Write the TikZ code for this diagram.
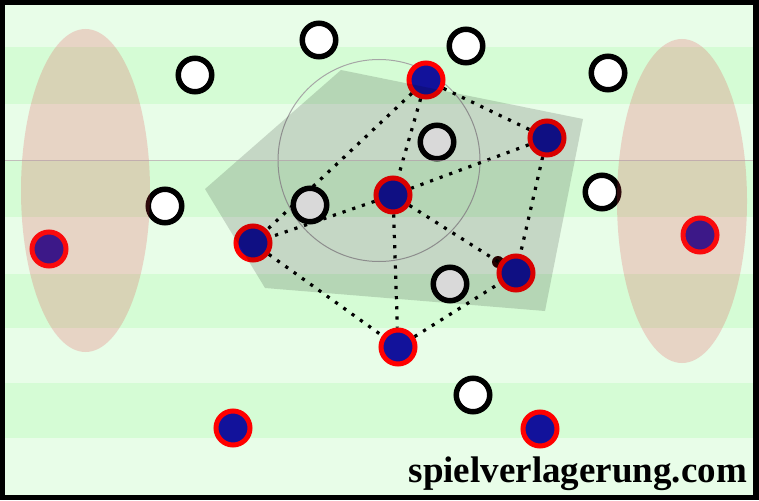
\documentclass[tikz,border=0pt]{standalone}
\usepackage{fontspec}
\setmainfont{Liberation Serif}
\definecolor{lightstripe}{RGB}{232,253,232}
\definecolor{darkstripe}{RGB}{213,252,213}
\definecolor{shirtblue}{RGB}{18,18,155}
\definecolor{flankred}{RGB}{230,50,60}
\definecolor{ballbrown}{RGB}{45,0,0}
\definecolor{halfway}{RGB}{180,150,170}
\tikzset{
  blueplayer/.style={circle,draw=red,fill=shirtblue,line width=5pt,minimum size=34pt,inner sep=0pt},
  whiteplayer/.style={circle,draw=black,fill=white,line width=5.5pt,minimum size=33.5pt,inner sep=0pt},
  passline/.style={line width=3.2pt,dash pattern=on 3.2pt off 7pt},
}
\begin{document}
\begin{tikzpicture}[x=1pt,y=-1pt]
  \useasboundingbox (0,0) rectangle (759,500);
  % pitch
  \fill[black] (0,0) rectangle (759,500);
  \fill[lightstripe] (5,5) rectangle (753,495);
  \fill[darkstripe] (5,47) rectangle (753,104);
  \fill[darkstripe] (5,160) rectangle (753,217);
  \fill[darkstripe] (5,274) rectangle (753,328);
  \fill[darkstripe] (5,383) rectangle (753,438);
  \draw[gray!70,line width=1pt] (379,160.5) circle (101);

  % ball
  \node[circle,fill=ballbrown,minimum size=12pt,inner sep=0pt] (ball) at (498,262) {};

  % red team
  \node[blueplayer] (bTop)   at (426,80) {};
  \node[blueplayer] (bRight) at (547,138) {};
  \node[blueplayer] (bMid)   at (393,195) {};
  \node[blueplayer] (bLeft)  at (253,243) {};
  \node[blueplayer] (bBall)  at (516,273) {};
  \node[blueplayer] (bLow)   at (398,347) {};
  \node[blueplayer] (bBL)    at (233,428) {};
  \node[blueplayer] (bBR)    at (540,429) {};
  \node[blueplayer] (bWideL) at (49,249) {};
  \node[blueplayer] (bWideR) at (700,235) {};

  % passing lanes
  \draw[passline] (bTop) -- (bRight);
  \draw[passline] (bTop) -- (bMid);
  \draw[passline] (bTop) -- (bLeft);
  \draw[passline] (bRight) -- (bMid);
  \draw[passline] (bRight) -- (bBall);
  \draw[passline] (bMid) -- (bBall);
  \draw[passline] (bMid) -- (bLow);
  \draw[passline] (bMid) -- (bLeft);
  \draw[passline] (bLeft) -- (bLow);
  \draw[passline] (bLow) -- (bBall);

  % white team
  \node[whiteplayer] (w1)  at (195,75) {};
  \node[whiteplayer] (w2)  at (319,40) {};
  \node[whiteplayer] (w3)  at (466,46) {};
  \node[whiteplayer] (w4)  at (608,73) {};
  \node[whiteplayer] (w5)  at (165,206) {};
  \node[whiteplayer] (w6)  at (602,192) {};
  \node[whiteplayer] (w7)  at (473,395) {};
  \node[whiteplayer] (w8)  at (437,142) {};
  \node[whiteplayer] (w9)  at (310,205) {};
  \node[whiteplayer] (w10) at (450,284) {};

  % zones
  \fill[black,fill opacity=0.15] (341,70) -- (583,119) -- (545,311) -- (265,288) -- (205,189) -- cycle;
  \fill[flankred,fill opacity=0.2] (85.5,190.5) ellipse (64.5 and 161.5);
  \fill[flankred,fill opacity=0.2] (682,201) ellipse (65 and 162);
  \draw[halfway,opacity=0.6,line width=1.2pt] (5,160.5) -- (753,160.5);

  \node[anchor=base east,inner sep=0pt,font=\fontsize{37}{40}\selectfont\bfseries] (site) at (747,482) {spielverlagerung.com};
\end{tikzpicture}
\end{document}
